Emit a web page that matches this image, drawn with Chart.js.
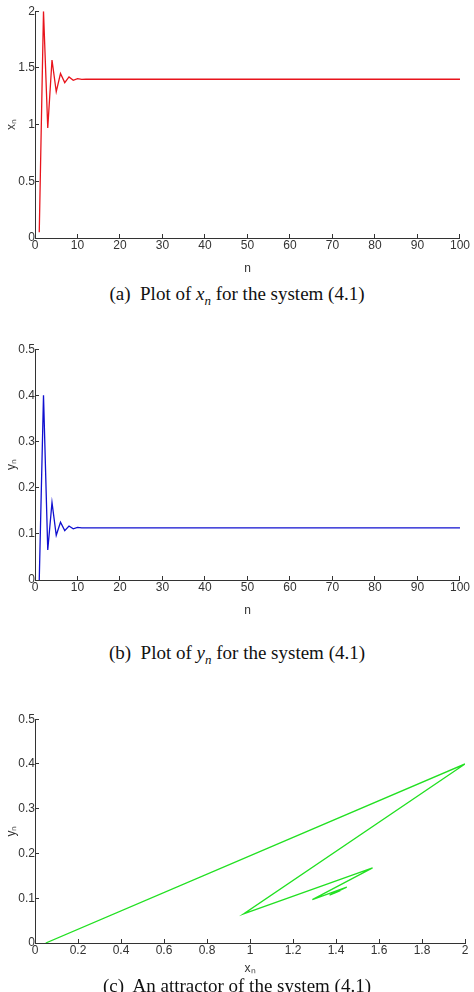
<!DOCTYPE html><html><head><meta charset="utf-8">
<script src="https://cdn.jsdelivr.net/npm/chart.js@4/dist/chart.umd.min.js"></script>
<style>
body{margin:0;background:#fff;width:474px;height:992px;position:relative;overflow:hidden}
.c{position:absolute;left:0;width:474px}
.cap{position:absolute;left:0;width:474px;text-align:center;font-family:"Liberation Serif",serif;font-size:19px;color:#111}
i{font-family:"Liberation Serif",serif}
</style></head><body>
<div class="c" style="top:0;height:280px"><canvas id="a"></canvas></div>
<div class="cap" style="top:283px">(a)&nbsp; Plot of <i>x<sub style="font-size:13px">n</sub></i> for the system (4.1)</div>
<div class="c" style="top:338px;height:284px"><canvas id="b"></canvas></div>
<div class="cap" style="top:642px">(b)&nbsp; Plot of <i>y<sub style="font-size:13px">n</sub></i> for the system (4.1)</div>
<div class="c" style="top:708px;height:272px"><canvas id="c"></canvas></div>
<div class="cap" style="top:975px">(c)&nbsp; An attractor of the system (4.1)</div>
<script>
const nVals=[1,2,3,4,5,6,7,8,9,10,11,12,100];
const xVals=[0.05,2.0,0.97,1.57,1.29,1.45,1.37,1.42,1.39,1.405,1.398,1.40,1.40];
const yVals=[0.0,0.40,0.065,0.168,0.097,0.125,0.107,0.117,0.111,0.114,0.113,0.113,0.113];
const F="'Liberation Sans',Arial,sans-serif";
function axis(min,max,step,title,isY,w){
 return {type:'linear',min,max,ticks:{stepSize:step,color:'#333',font:{family:F,size:12},padding:4,
  callback:v=>(Math.round(v*100)/100).toString()},
  grid:{drawOnChartArea:false,color:'#333',tickLength:-4,tickWidth:1},
  border:{color:'#333',width:1},
  title:{display:true,text:title,color:'#333',font:{family:F,size:12},padding:isY?{bottom:0}:{top:2}},
  afterFit:s=>{if(isY)s.width=w;else s.height=w;}};
}
function mk(id,xs,ys,col,xa,ya,top){
 new Chart(document.getElementById(id),{type:'line',
  data:{datasets:[{data:xs.map((v,i)=>({x:v,y:ys[i]})),borderColor:col,borderWidth:1.3,pointRadius:0,tension:0,fill:false}]},
  options:{responsive:true,maintainAspectRatio:false,animation:false,
   layout:{padding:{top:top,right:9,left:0,bottom:0}},
   plugins:{legend:{display:false},tooltip:{enabled:false}},
   scales:{x:xa,y:ya}}});
}
mk('a',nVals,xVals,'#e8141c',axis(0,100,10,'n',false,42),axis(0,2,0.5,'x\u2099',true,35),1);
mk('b',nVals,yVals,'#1010d0',axis(0,100,10,'n',false,42),axis(0,0.5,0.1,'y\u2099',true,35),6);
mk('c',xVals,yVals,'#22e022',axis(0,2,0.2,'x\u2099',false,37),axis(0,0.5,0.1,'y\u2099',true,35),6);
</script></body></html>
